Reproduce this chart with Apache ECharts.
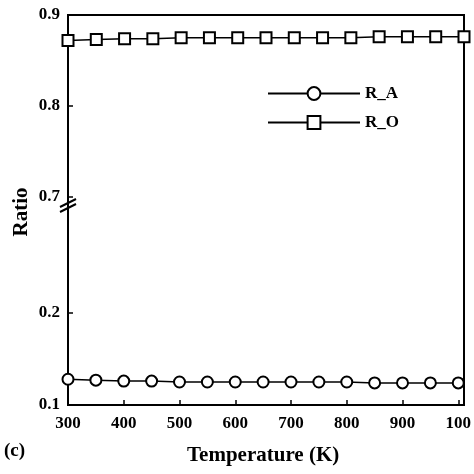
<!DOCTYPE html><html><head><meta charset="utf-8">
<script src="https://cdn.jsdelivr.net/npm/echarts@6/dist/echarts.min.js"></script>
<style>html,body{margin:0;background:#fff}#c{width:474px;height:474px}</style></head><body><div id="c"></div>
<script>
const temps=[300,350,400,450,500,550,600,650,700,750,800,850,900,950,1000];
const rA=[0.128,0.127,0.126,0.126,0.125,0.125,0.125,0.125,0.125,0.125,0.125,0.124,0.124,0.124,0.124];
const rO=[0.872,0.873,0.874,0.874,0.875,0.875,0.875,0.875,0.875,0.875,0.875,0.876,0.876,0.876,0.876];
const F='Liberation Serif';
const lbl={fontFamily:F,fontWeight:'bold',fontSize:17,color:'#000'};
const line={lineStyle:{color:'#000',width:2}};
const tick={inside:true,length:5,lineStyle:{color:'#000',width:1.5}};
const chart=echarts.init(document.getElementById('c'));
const xBase={type:'value',min:300,max:1000,interval:100,splitLine:{show:false},axisLine:line,axisTick:tick};
const yBase={type:'value',interval:0.1,splitLine:{show:false},axisLine:line,axisTick:tick,
  axisLabel:Object.assign({formatter:v=>v.toFixed(1),margin:8},lbl)};
chart.setOption({
 animation:false,
 grid:[{left:68,right:10,top:15,height:182},{left:68,right:10,top:313,height:92}],
 xAxis:[Object.assign({gridIndex:0,show:false},xBase),
  Object.assign({gridIndex:1,name:'Temperature (K)',nameLocation:'middle',nameGap:40,
   nameTextStyle:{fontFamily:F,fontWeight:'bold',fontSize:21,color:'#000'},
   axisLabel:Object.assign({formatter:v=>v===1000?'100':String(v),margin:10},lbl)},xBase)],
 yAxis:[Object.assign({gridIndex:0,min:0.7,max:0.9},yBase),
  Object.assign({gridIndex:1,min:0.1,max:0.2},yBase)],
 legend:{left:262,top:80,orient:'vertical',itemWidth:92,itemHeight:16,itemGap:12,
  textStyle:lbl,data:['R_A','R_O']},
 graphic:[{type:'text',left:4,top:442,style:{text:'(c)',font:'bold 19px "Liberation Serif"',fill:'#000'}},
  {type:'text',x:22,y:212,rotation:Math.PI/2,style:{text:'Ratio',font:'bold 21px "Liberation Serif"',fill:'#000',align:'center',verticalAlign:'middle'}},
  {type:'rect',shape:{x:68,y:15,width:396,height:390},style:{fill:'none',stroke:'#000',lineWidth:2},silent:true},
  {type:'line',shape:{x1:60,y1:207,x2:76,y2:199},style:{stroke:'#000',lineWidth:2}},
  {type:'line',shape:{x1:60,y1:212,x2:76,y2:204},style:{stroke:'#000',lineWidth:2}}],
 series:[
  {name:'R_A',type:'line',xAxisIndex:1,yAxisIndex:1,data:temps.map((t,i)=>[t,rA[i]]),symbol:'emptyCircle',symbolSize:11,clip:false,
   lineStyle:{color:'#000',width:1.5},itemStyle:{color:'#000',borderColor:'#000'}},
  {name:'R_O',type:'line',xAxisIndex:0,yAxisIndex:0,data:temps.map((t,i)=>[t,rO[i]]),symbol:'emptyRect',symbolSize:11,clip:false,
   lineStyle:{color:'#000',width:1.5},itemStyle:{color:'#000',borderColor:'#000'}}
 ]
});
</script></body></html>
